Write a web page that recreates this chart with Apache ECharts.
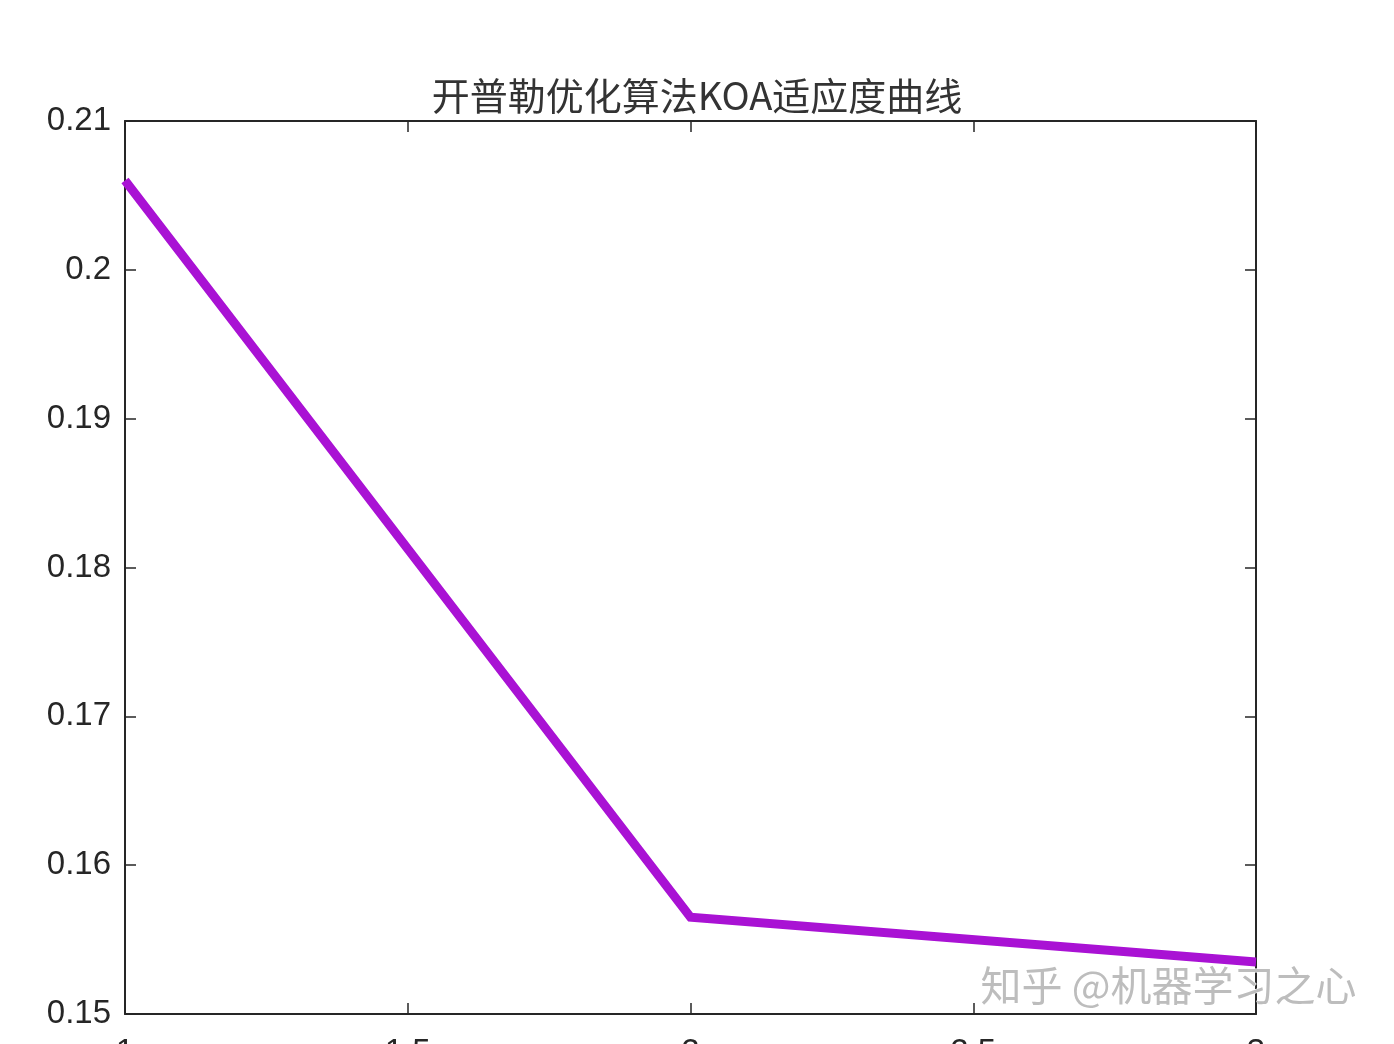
<!DOCTYPE html>
<html>
<head>
<meta charset="utf-8">
<script src="https://cdn.jsdelivr.net/npm/echarts@6/dist/echarts.min.js"></script>
<style>html,body{margin:0;padding:0;background:#fff}#c{width:1394px;height:1044px}</style>
</head>
<body>
<div id="c"></div>
<script>
const titleText = '开普勒优化算法KOA适应度曲线';
const iterations = [1, 2, 3];
const fitness = [0.2060, 0.1565, 0.1535];
const xTicks = [1, 1.5, 2, 2.5, 3];
const yTicks = [0.15, 0.16, 0.17, 0.18, 0.19, 0.2, 0.21];
const watermark = '知乎 @机器学习之心';

const chart = echarts.init(document.getElementById('c'));
const font = 'Liberation Sans, Arial, sans-serif';
const axisCommon = {
  axisLine: {show: true, onZero: false, lineStyle: {color: '#262626', width: 2}},
  axisTick: {show: true, inside: true, length: 11, lineStyle: {color: '#262626', width: 1.5}},
  splitLine: {show: false}
};
chart.setOption({
  animation: false,
  backgroundColor: '#fff',
  title: {
    text: titleText, left: 692, top: 72, textAlign: 'center',
    textStyle: {fontSize: 38, fontWeight: 'normal', color: '#333', fontFamily: 'Noto Sans CJK SC, ' + font}
  },
  grid: {left: 125, right: 138, top: 121, bottom: 30, containLabel: false, outerBoundsMode: 'none'},
  xAxis: [
    Object.assign({type: 'value', min: 1, max: 3, interval: 0.5, position: 'bottom',
      axisLabel: {show: true, margin: 22, fontSize: 33, color: '#262626', fontFamily: font,
        formatter: v => xTicks.includes(v) ? String(v) : ''}}, axisCommon),
    Object.assign({type: 'value', min: 1, max: 3, interval: 0.5, position: 'top',
      axisLabel: {show: false}}, axisCommon)
  ],
  yAxis: [
    Object.assign({type: 'value', min: 0.15, max: 0.21, interval: 0.01, position: 'left',
      axisLabel: {show: true, margin: 14, fontSize: 33, color: '#262626', fontFamily: font,
        formatter: v => { const t = yTicks.find(y => Math.abs(y - v) < 1e-9); return t === undefined ? '' : String(t); }}}, axisCommon),
    Object.assign({type: 'value', min: 0.15, max: 0.21, interval: 0.01, position: 'right',
      axisLabel: {show: false}}, axisCommon)
  ],
  series: [{
    type: 'line',
    data: iterations.map((x, i) => [x, fitness[i]]),
    showSymbol: false,
    symbol: 'none',
    lineStyle: {color: '#A912D4', width: 9, join: 'miter'},
    clip: true
  }],
  graphic: [{
    type: 'text', left: 980, top: 964, z: 100,
    style: {text: watermark, fontSize: 41, fill: '#bdbdbd', fontFamily: 'Noto Sans CJK SC, sans-serif',
      stroke: '#ffffff', lineWidth: 1, shadowColor: 'rgba(0,0,0,0.25)', shadowBlur: 2}
  }]
});
</script>
</body>
</html>
